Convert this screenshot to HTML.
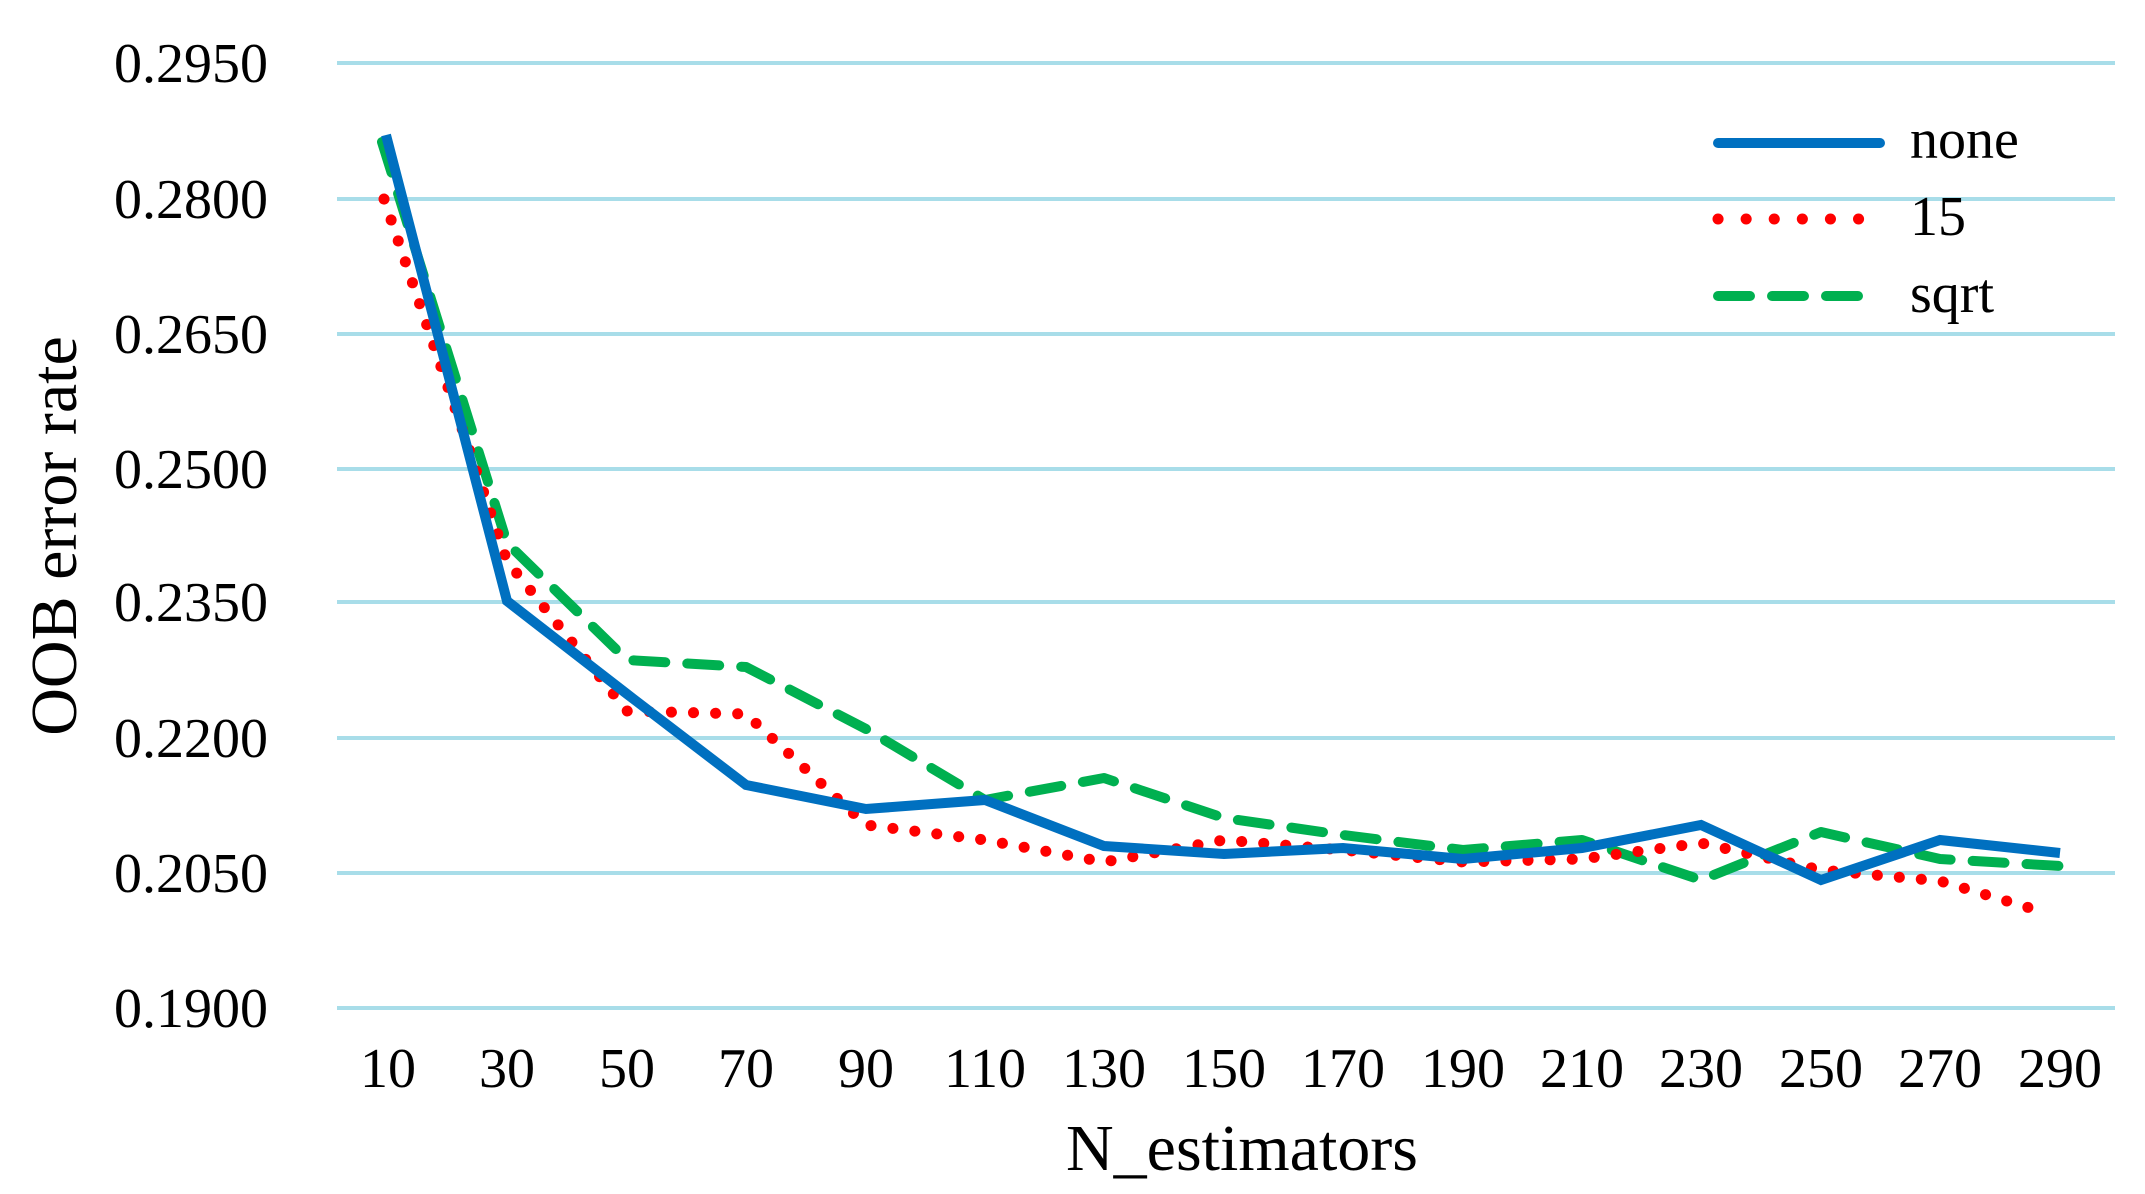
<!DOCTYPE html>
<html><head><meta charset="utf-8"><style>
html,body{margin:0;padding:0;background:#fff;}
svg{display:block;}
text{font-family:"Liberation Serif",serif;fill:#000;}
</style></head><body>
<svg width="2145" height="1194" viewBox="0 0 2145 1194" xmlns="http://www.w3.org/2000/svg">
<g stroke="#a8dde9" stroke-width="4">
<line x1="337" y1="63" x2="2115" y2="63"/>
<line x1="337" y1="199" x2="2115" y2="199"/>
<line x1="337" y1="334" x2="2115" y2="334"/>
<line x1="337" y1="469" x2="2115" y2="469"/>
<line x1="337" y1="602" x2="2115" y2="602"/>
<line x1="337" y1="738" x2="2115" y2="738"/>
<line x1="337" y1="873" x2="2115" y2="873"/>
<line x1="337" y1="1008" x2="2115" y2="1008"/>
</g>
<g font-size="56" text-anchor="end">
<text x="268" y="82">0.2950</text>
<text x="268" y="218">0.2800</text>
<text x="268" y="353">0.2650</text>
<text x="268" y="488">0.2500</text>
<text x="268" y="621">0.2350</text>
<text x="268" y="757">0.2200</text>
<text x="268" y="892">0.2050</text>
<text x="268" y="1027">0.1900</text>
</g>
<g font-size="56" text-anchor="middle">
<text x="388" y="1087">10</text><text x="507" y="1087">30</text><text x="627" y="1087">50</text>
<text x="746" y="1087">70</text><text x="866" y="1087">90</text><text x="985" y="1087">110</text>
<text x="1104" y="1087">130</text><text x="1224" y="1087">150</text><text x="1343" y="1087">170</text>
<text x="1463" y="1087">190</text><text x="1582" y="1087">210</text><text x="1701" y="1087">230</text>
<text x="1821" y="1087">250</text><text x="1940" y="1087">270</text><text x="2060" y="1087">290</text>
</g>
<text x="1242" y="1170" font-size="66" text-anchor="middle">N_estimators</text>
<text transform="translate(76,536) rotate(-90)" font-size="66" text-anchor="middle">OOB error rate</text>
<polyline fill="none" stroke="#00b050" stroke-width="10" stroke-dasharray="32,22" stroke-linecap="round" stroke-linejoin="round"
points="382,142 507,543 627,660 746,667 866,729 985,800 1104,778 1224,818 1343,835 1463,850 1582,840 1701,880 1821,832 1940,859 2060,866"/>
<polyline fill="none" stroke="#ff0000" stroke-width="11" stroke-dasharray="0.1,22" stroke-linecap="round"
points="384,199 507,561 627,711 746,714 866,825 985,840 1104,862 1224,840 1343,850 1463,862 1582,859 1701,843 1821,870 1940,881 2030,908"/>
<polyline fill="none" stroke="#0070c0" stroke-width="10" stroke-linejoin="miter"
points="386,135 507,601 627,694 746,785 866,809 985,800 1104,846 1224,854 1343,848 1463,859 1582,848 1701,825 1821,880 1940,840 2060,853"/>
<line x1="1718" y1="143" x2="1880" y2="143" stroke="#0070c0" stroke-width="10" stroke-linecap="round"/>
<line x1="1718" y1="219" x2="1880" y2="219" stroke="#ff0000" stroke-width="11" stroke-dasharray="0.1,28" stroke-linecap="round"/>
<line x1="1718" y1="296" x2="1880" y2="296" stroke="#00b050" stroke-width="10" stroke-dasharray="32,22" stroke-linecap="round"/>
<g font-size="56">
<text x="1910" y="158">none</text>
<text x="1910" y="235">15</text>
<text x="1910" y="312">sqrt</text>
</g>
</svg>
</body></html>
